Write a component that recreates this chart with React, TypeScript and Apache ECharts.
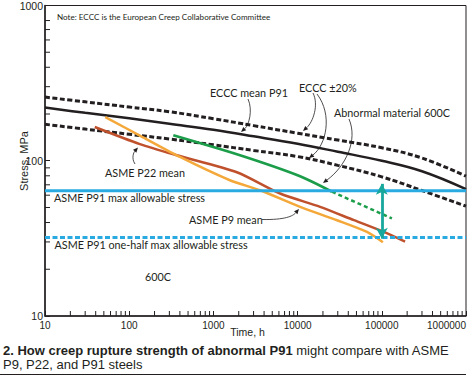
import React, { useEffect, useRef } from 'react';
import * as echarts from 'echarts';

// ---- data (time in h, stress in MPa) ----
const eccTime = [10, 30, 100, 300, 1000, 3000, 10000, 30000, 100000, 300000, 1000000];
const eccMean = [220, 203.5, 187.7, 173, 158.2, 143.7, 128.6, 114.3, 100, 85.6, 65.6];
const eccUpper = [257, 239.5, 221.8, 206.9, 186.6, 168.4, 150.5, 135.9, 121.2, 104.1, 79.5];
const eccLower = [171.7, 159.9, 148.1, 138.1, 126.6, 116.5, 106.4, 93.4, 78.8, 64.3, 51];

const p22Time = [39, 134, 367, 1900, 6200, 18500, 46700, 106000, 189000];
const p22Stress = [165, 128, 108.5, 84.3, 61.5, 50.5, 41.4, 34.8, 30.1];

const p9Time = [52, 146, 401, 1570, 3580, 10700, 29400, 66700, 103000];
const p9Stress = [191, 141.6, 105.8, 74.9, 64.6, 50.5, 41.4, 34.8, 29.9];

const abnTime = [334, 2070, 10700, 25600];
const abnStress = [145.9, 108.5, 79.5, 63.2];
const abnExtTime = [25600, 132000];
const abnExtStress = [63.2, 42.5];

const allowTime = [10, 1000000];
const allowStress = [64, 64];
const halfAllowStress = [32, 32];

const arrowTime = 100000;
const arrowSpan = [71, 31.5];

const xLabels = [10, 100, 1000, 10000, 100000, 1000000];
const yLabels = [10, 100, 1000];
const minorMult = [2, 3, 4, 5, 6, 7, 8, 9];
const xDecades = [10, 100, 1000, 10000, 100000];
const yDecades = [10, 100];

const INK = '#231f20';
const ORANGE = '#f4a83a';
const RED = '#c0512d';
const GREEN = '#1c9d4a';
const BLUE = '#29abe2';
const TEAL = '#17a79c';
const ANN_FONT = 'Lato';

const pairs = (xs: number[], ys: number[]) => xs.map((x, i) => [x, ys[i]]);

function leader(x1: number, y1: number, c1x: number, c1y: number, c2x: number, c2y: number, x2: number, y2: number) {
  const dx = x2 - c2x, dy = y2 - c2y;
  const len = Math.hypot(dx, dy) || 1;
  const ux = dx / len, uy = dy / len;
  const L = 5, W = 2.2;
  const bx = x2 - ux * L, by = y2 - uy * L;
  return [
    {
      type: 'bezierCurve',
      shape: { x1, y1, x2: bx, y2: by, cpx1: c1x, cpy1: c1y, cpx2: c2x, cpy2: c2y },
      style: { stroke: INK, lineWidth: 0.8, fill: 'none' },
      silent: true,
    },
    {
      type: 'polygon',
      shape: { points: [[x2, y2], [bx - uy * W, by + ux * W], [bx + uy * W, by - ux * W]] },
      style: { fill: INK },
      silent: true,
    },
  ];
}

function ann(text: string, x: number, y: number, size = 10.8) {
  return {
    type: 'text',
    x,
    y,
    silent: true,
    style: { text, fill: INK, fontFamily: ANN_FONT, fontSize: size, verticalAlign: 'middle', align: 'left' },
  };
}

export default function App() {
  const ref = useRef<HTMLDivElement>(null);
  useEffect(() => {
    const chart = echarts.init(ref.current!, null, { renderer: 'svg' });
    const xMinor: number[] = [];
    xDecades.forEach((d) => minorMult.forEach((m) => xMinor.push(d * m)));
    const yMinor: number[] = [];
    yDecades.forEach((d) => minorMult.forEach((m) => { if (!(d === 100 && m === 9)) yMinor.push(d * m); }));

    const lineBase = { type: 'line', showSymbol: false, symbol: 'none', silent: true, smooth: 0.25 } as any;

    const option: any = {
      animation: false,
      backgroundColor: '#fff',
      grid: { left: 45, top: 5, right: 8, bottom: 60, show: true, borderColor: INK, borderWidth: 1 },
      xAxis: {
        type: 'log', logBase: 10, min: 10, max: 1000000,
        axisLine: { show: true, lineStyle: { color: INK, width: 1.5 } },
        axisTick: { show: true, inside: true, length: 5, lineStyle: { color: INK, width: 1 } },
        splitLine: { show: false },
        axisLabel: {
          color: INK, fontFamily: 'Liberation Sans', fontSize: 10, margin: 4,
          alignMaxLabel: 'right',
          formatter: (v: number) => {
            const r = xLabels.find((l) => Math.abs(l - v) / l < 1e-6);
            return r !== undefined ? String(r) : '';
          },
        },
      },
      yAxis: {
        type: 'log', logBase: 10, min: 10, max: 1000,
        axisLine: { show: true, lineStyle: { color: INK, width: 1.5 } },
        axisTick: { show: true, inside: true, length: 5, lineStyle: { color: INK, width: 1 } },
        splitLine: { show: false },
        axisLabel: {
          color: INK, fontFamily: 'Liberation Sans', fontSize: 10.5, margin: 2,
          formatter: (v: number) => {
            const r = yLabels.find((l) => Math.abs(l - v) / l < 1e-6);
            return r !== undefined ? String(r) : '';
          },
        },
      },
      series: [
        { ...lineBase, name: 'ECCC +20%', data: pairs(eccTime, eccUpper), lineStyle: { color: INK, width: 3, type: [5, 2.5] }, smooth: 0.4 },
        { ...lineBase, name: 'ECCC mean P91', data: pairs(eccTime, eccMean), lineStyle: { color: INK, width: 2.5 }, smooth: 0.4 },
        { ...lineBase, name: 'ECCC -20%', data: pairs(eccTime, eccLower), lineStyle: { color: INK, width: 3, type: [5, 2.5] }, smooth: 0.4 },
        { ...lineBase, name: 'ASME P22 mean', data: pairs(p22Time, p22Stress), lineStyle: { color: RED, width: 2.5 } },
        { ...lineBase, name: 'ASME P9 mean', data: pairs(p9Time, p9Stress), lineStyle: { color: ORANGE, width: 2.5 } },
        { ...lineBase, name: 'Abnormal material 600C', data: pairs(abnTime, abnStress), lineStyle: { color: GREEN, width: 2.8 } },
        { ...lineBase, name: 'Abnormal ext', data: pairs(abnExtTime, abnExtStress), lineStyle: { color: GREEN, width: 2.5, type: [4, 3] }, smooth: false },
        {
          ...lineBase, name: 'ASME P91 max allowable stress', data: pairs(allowTime, allowStress),
          lineStyle: { color: BLUE, width: 3 }, smooth: false,
          markLine: {
            silent: true, animation: false, symbol: ['arrow', 'arrow'], symbolSize: [9, 11],
            label: { show: false },
            lineStyle: { color: TEAL, width: 2.8, type: 'solid' },
            emphasis: { disabled: true },
            data: [[{ coord: [arrowTime, arrowSpan[0]] }, { coord: [arrowTime, arrowSpan[1]] }]],
          },
        },
        { ...lineBase, name: 'ASME P91 one-half', data: pairs(allowTime, halfAllowStress), lineStyle: { color: BLUE, width: 3, type: [5, 2.5] }, smooth: false },
        {
          type: 'custom', silent: true, clip: false, z: 5,
          data: xMinor.map((v) => [v, 10]),
          encode: { x: 0, y: 1 },
          renderItem: (_p: any, api: any) => {
            const c = api.coord([api.value(0), 10]);
            return { type: 'line', shape: { x1: c[0], y1: c[1], x2: c[0], y2: c[1] - 5 }, style: { stroke: INK, lineWidth: 1 } };
          },
        },
        {
          type: 'custom', silent: true, clip: false, z: 5,
          data: yMinor.map((v) => [10, v]),
          encode: { x: 0, y: 1 },
          renderItem: (_p: any, api: any) => {
            const c = api.coord([10, api.value(1)]);
            return { type: 'line', shape: { x1: c[0], y1: c[1], x2: c[0] + 5, y2: c[1] }, style: { stroke: INK, lineWidth: 1 } };
          },
        },
      ],
      graphic: [
        ann('Note: ECCC is the European Creep Collaborative Committee', 57, 16.7, 8.1),
        ann('ECCC mean P91', 210, 92.5),
        ann('ECCC \u00b120%', 299, 87),
        ann('Abnormal material 600C', 334, 112.8),
        ann('ASME P22 mean', 105, 172.5),
        ann('ASME P91 max allowable stress', 54, 197.5),
        ann('ASME P9 mean', 189, 219.2),
        ann('ASME P91 one-half max allowable stress', 54.5, 244.2),
        ann('600C', 145, 276.7),
        ...leader(248, 99, 253, 110, 249, 125, 241, 132),
        ...leader(313, 93, 319, 105, 313, 122, 303, 131),
        ...leader(317, 94, 333, 115, 326, 145, 309, 158),
        ...leader(349, 119, 358, 140, 346, 166, 323, 183),
        ...leader(135, 164, 131, 158, 134, 152, 138, 147.5),
        ...leader(262, 219.5, 285, 220, 293, 216, 299, 209),
        {
          type: 'text', x: 24, y: 161, rotation: Math.PI / 2, silent: true,
          style: { text: 'Stress, MPa', fill: INK, fontFamily: 'Liberation Sans', fontSize: 11, align: 'center', verticalAlign: 'middle' },
        },
        {
          type: 'text', x: 247.5, y: 331.5, silent: true,
          style: { text: 'Time, h', fill: INK, fontFamily: 'Liberation Sans', fontSize: 10.5, align: 'center', verticalAlign: 'middle' },
        },
        {
          type: 'text', x: 3, y: 350.8, silent: true,
          style: {
            text: '{b|2. How creep rupture strength of abnormal P91}{r| might compare with ASME}',
            verticalAlign: 'middle', align: 'left',
            rich: {
              b: { fontFamily: 'Liberation Sans', fontSize: 13, fontWeight: 'bold', fill: INK },
              r: { fontFamily: 'Liberation Sans', fontSize: 13, fill: INK },
            },
          },
        },
        {
          type: 'text', x: 3, y: 364.3, silent: true,
          style: { text: 'P9, P22, and P91 steels', fill: INK, fontFamily: 'Liberation Sans', fontSize: 13, verticalAlign: 'middle', align: 'left' },
        },
        {
          type: 'line', silent: true,
          shape: { x1: 0, y1: 374.5, x2: 466, y2: 374.5 },
          style: { stroke: INK, lineWidth: 1 },
        },
      ],
    };
    chart.setOption(option);
    return () => chart.dispose();
  }, []);
  return (
    <div
      ref={ref}
      style={{ position: 'absolute', left: 0, top: 0, width: 474, height: 376, background: '#fff' }}
    />
  );
}
